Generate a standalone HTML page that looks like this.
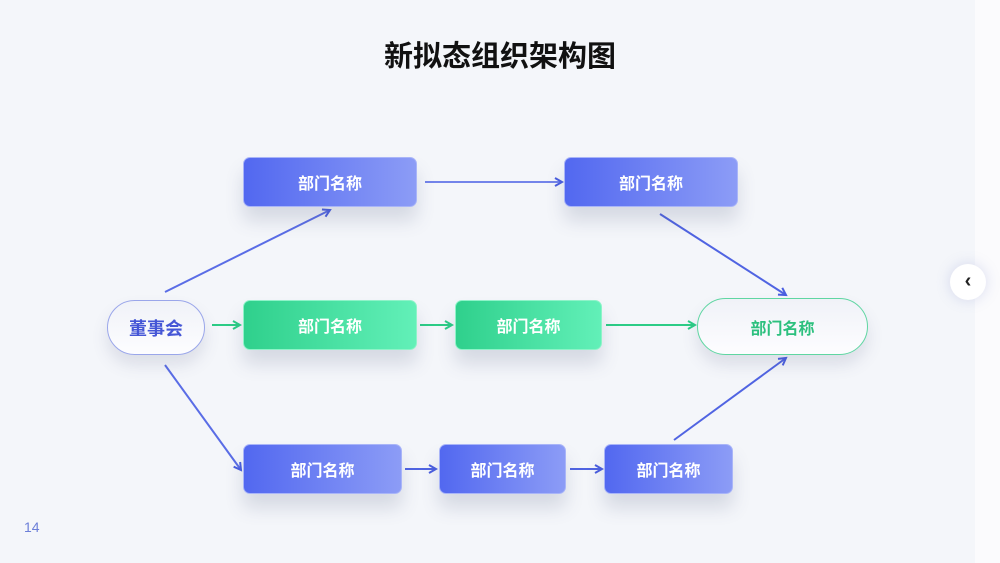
<!DOCTYPE html>
<html><head><meta charset="utf-8"><style>
body{margin:0;width:1000px;height:563px;overflow:hidden;background:#f4f6fa;font-family:"Liberation Sans","Noto Sans CJK SC",sans-serif;position:relative}
.strip{position:absolute;left:975px;top:0;width:25px;height:563px;background:#fbfbfd}
.t{position:absolute;left:0;width:1000px;top:33px;text-align:center;font-size:29px;font-weight:bold;color:#111}
.b{position:absolute;display:flex;align-items:center;justify-content:center;color:#fff;font-weight:bold;font-size:16px;border-radius:7px;box-sizing:border-box;box-shadow:0 14px 18px rgba(80,90,130,0.18)}
.bl{background:linear-gradient(90deg,#5268f0,#8c9cf6);border:1px solid #a9b5f8}
.gr{background:linear-gradient(90deg,#2fd08c,#62f0b8);border:1px solid #8ef3c8}
.pill{position:absolute;display:flex;align-items:center;justify-content:center;font-weight:bold;border-radius:30px;box-sizing:border-box;background:linear-gradient(180deg,#f0f2f8,#fdfdff);box-shadow:0 10px 16px rgba(80,90,130,0.15)}
svg{position:absolute;left:0;top:0}
.n{position:absolute;left:24px;top:519px;font-size:14px;color:#6c7fd8}
.btn{position:absolute;left:950px;top:264px;width:36px;height:36px;border-radius:50%;background:#fff;box-shadow:0 0 14px rgba(120,130,200,0.25);font-size:20px;text-align:center;line-height:34px;color:#222;font-weight:bold}
</style></head><body>
<div class="strip"></div>
<div class="t">新拟态组织架构图</div>
<svg width="1000" height="563">
<defs>
<marker id="a" markerWidth="10" markerHeight="10" refX="8" refY="5" orient="auto" markerUnits="userSpaceOnUse"><path d="M1,1 L8,5 L1,9" fill="none" stroke="#4a5ee0" stroke-width="2"/></marker>
<marker id="g" markerWidth="10" markerHeight="10" refX="8" refY="5" orient="auto" markerUnits="userSpaceOnUse"><path d="M1,1 L8,5 L1,9" fill="none" stroke="#2ccc86" stroke-width="2"/></marker>
</defs>
<g stroke-width="2" fill="none">
<line x1="165" y1="292" x2="330" y2="210" stroke="#5a6de6" marker-end="url(#a)"/>
<line x1="425" y1="182" x2="562" y2="182" stroke="#7384ea" marker-end="url(#a)"/>
<line x1="660" y1="214" x2="786" y2="295" stroke="#5064e2" marker-end="url(#a)"/>
<line x1="674" y1="440" x2="786" y2="358" stroke="#5064e2" marker-end="url(#a)"/>
<line x1="165" y1="365" x2="241" y2="470" stroke="#5a6de6" marker-end="url(#a)"/>
<line x1="405" y1="469" x2="436" y2="469" stroke="#5064e2" marker-end="url(#a)"/>
<line x1="570" y1="469" x2="602" y2="469" stroke="#5064e2" marker-end="url(#a)"/>
<line x1="212" y1="325" x2="240" y2="325" stroke="#2ccc86" marker-end="url(#g)"/>
<line x1="420" y1="325" x2="452" y2="325" stroke="#2ccc86" marker-end="url(#g)"/>
<line x1="606" y1="325" x2="695" y2="325" stroke="#2ccc86" marker-end="url(#g)"/>
</g>
</svg>
<div class="b bl" style="left:243px;top:157px;width:174px;height:50px">部门名称</div>
<div class="b bl" style="left:564px;top:157px;width:174px;height:50px">部门名称</div>
<div class="pill" style="left:107px;top:300px;width:98px;height:55px;border:1.5px solid #9aa6ea;color:#4556d6;font-size:18px">董事会</div>
<div class="b gr" style="left:243px;top:300px;width:174px;height:50px">部门名称</div>
<div class="b gr" style="left:455px;top:300px;width:147px;height:50px">部门名称</div>
<div class="pill" style="left:697px;top:298px;width:171px;height:57px;border:1.5px solid #5fd6a2;color:#2cc07e;font-size:16px">部门名称</div>
<div class="b bl" style="left:243px;top:444px;width:159px;height:50px">部门名称</div>
<div class="b bl" style="left:439px;top:444px;width:127px;height:50px">部门名称</div>
<div class="b bl" style="left:604px;top:444px;width:129px;height:50px">部门名称</div>
<div class="n">14</div>
<div class="btn">‹</div>
</body></html>
